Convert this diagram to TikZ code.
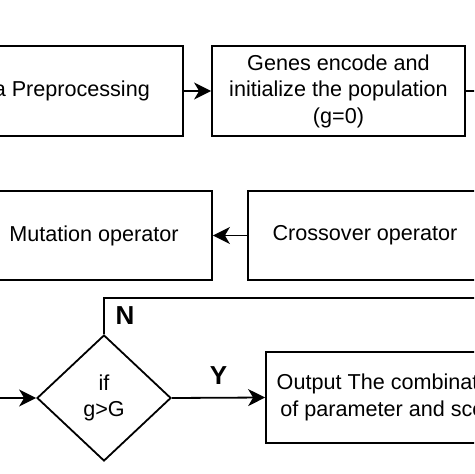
\documentclass[tikz,border=0pt]{standalone}
\usepackage{fontspec}
\setmainfont{Liberation Sans}
\usetikzlibrary{shapes.geometric,arrows.meta}

\begin{document}
\begin{tikzpicture}[
    x=0.5pt, y=-0.5pt,
    font=\fontsize{10.8}{13.25}\selectfont,
    line width=0.9pt,
    stepbox/.style={
      rectangle,
      draw=black,
      align=center,
      inner sep=0pt,
      minimum height=45pt
    },
    testbox/.style={
      diamond,
      draw=black,
      align=center,
      inner sep=0pt,
      minimum width=67pt,
      minimum height=63pt
    },
    flow/.style={-{Stealth[length=8.5pt,width=8.5pt,inset=2.5pt]}},
    mark label/.style={font=\fontsize{13}{15}\selectfont\bfseries}
  ]
  \useasboundingbox (0,0) rectangle (474,474);
  \clip (0,0) rectangle (474,474);

  % first row
  \node[stepbox, minimum width=128pt] (prep) at (55,91) {Data Preprocessing};
  \node[stepbox, minimum width=126.5pt] (genes) at (338.5,91)
    {Genes encode and\\initialize the population\\(g=0)};
  \coordinate (fitR) at (500,91);

  % second row
  \node[stepbox, minimum width=118pt, minimum height=44.5pt] (mut) at (94,235.5)
    {Mutation operator};
  \node[stepbox, minimum width=117pt, minimum height=44.5pt] (cross) at (365,235.5)
    {Crossover operator};

  % third row
  \node[testbox] (test) at (104,398) {if\\g>G};
  \node[stepbox, minimum width=126pt, minimum height=45.5pt] (out) at (392,397.5)
    {Output The combination\\of parameter and score};
  \coordinate (inL) at (-30,398);
  \coordinate (loopR) at (500,298);

  \draw[flow] (prep) -- (genes);
  \draw (genes.east) -- (fitR);
  \draw[flow] (cross) -- (mut);
  \draw[flow] (inL) -- (test.west);
  \draw (test.north) -- node[right, mark label, xshift=2pt] {N} (test.north |- loopR) -- (loopR);
  \draw[flow] (test.east) -- node[above, mark label, yshift=3pt] {Y} (out.west);

\end{tikzpicture}
\end{document}
